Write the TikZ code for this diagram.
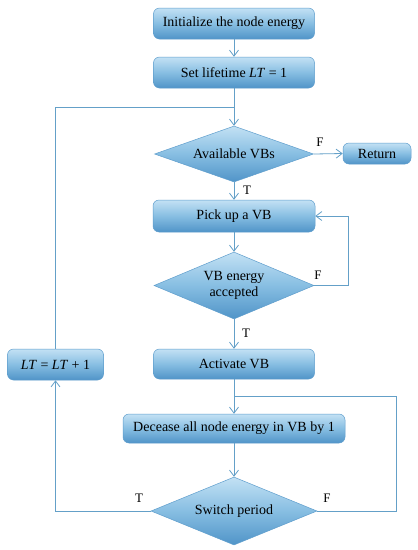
\documentclass[tikz,border=0pt]{standalone}
\usepackage{fontspec}
\setmainfont{Liberation Serif}
\usetikzlibrary{shapes.geometric,arrows.meta}
\definecolor{linec}{RGB}{100,160,200}
\definecolor{boxtop}{RGB}{195,225,244}
\definecolor{boxmid}{RGB}{135,190,226}
\definecolor{boxbot}{RGB}{80,148,200}
\definecolor{boxedge}{RGB}{95,158,205}
\begin{document}
\begin{tikzpicture}[x=1pt,y=-1pt,
  font=\fontsize{14}{16}\selectfont,
  procbox/.style={rectangle,rounded corners=6pt,draw=boxedge,line width=0.5pt,
    top color=boxtop,bottom color=boxbot,middle color=boxmid,
    inner sep=0pt,align=center},
  decbox/.style={diamond,draw=boxedge,line width=0.5pt,
    top color=boxtop,bottom color=boxbot,middle color=boxmid,
    inner sep=0pt,align=center},
  conn/.style={draw=linec,line width=0.8pt},
  arr/.style={conn,-{Straight Barb[length=6pt,width=9pt]}},
  lab/.style={font=\fontsize{13}{15}\selectfont,inner sep=0pt}]
\useasboundingbox (0,0) rectangle (418,550);
\fill[white] (0,0) rectangle (418,550);

\node[procbox,minimum width=161pt,minimum height=31pt] (init) at (234,23.5) {Initialize the node energy};
\node[procbox,minimum width=161pt,minimum height=31pt] (set) at (234,72.5) {Set lifetime \textit{LT} = 1};
\node[decbox,shape aspect=2.84,minimum width=159pt,minimum height=56pt] (avail) at (234,154) {Available VBs};
\node[procbox,minimum width=68pt,minimum height=21pt] (ret) at (377,153.5) {Return};
\node[procbox,minimum width=162pt,minimum height=32pt] (pick) at (234,216) {Pick up a VB};
\node[decbox,shape aspect=2.39,minimum width=160pt,minimum height=67pt] (acc) at (234,285.5) {VB energy\\accepted};
\node[procbox,minimum width=161pt,minimum height=30pt] (act) at (234,364) {Activate VB};
\node[procbox,minimum width=96pt,minimum height=31pt] (lt) at (55.5,364.5) {\textit{LT} = \textit{LT} + 1};
\node[procbox,minimum width=222pt,minimum height=29pt] (dec) at (234,428.5) {Decease all node energy in VB by 1};
\node[decbox,shape aspect=2.44,minimum width=166pt,minimum height=68pt] (sw) at (234,511) {Switch period};

\coordinate (j1) at (234,107);
\coordinate (j2) at (234,396);
\coordinate (rl) at (348,285.5);
\coordinate (rr) at (396,511);
\coordinate (ll) at (55.5,511);
\coordinate (lu) at (55.5,107);

\draw[arr] (init) -- (set);
\draw[conn] (set) -- (j1);
\draw[arr] (j1) -- (avail.north);
\draw[arr] (avail.east) -- (ret.west);
\draw[arr] (avail.south) -- (pick.north);
\draw[arr] (pick) -- (acc.north);
\draw[arr] (acc.east) -- (rl) |- (pick.east);
\draw[arr] (acc.south) -- (act.north);
\draw[conn] (act) -- (j2);
\draw[arr] (j2) -- (dec.north);
\draw[arr] (dec) -- (sw.north);
\draw[conn] (sw.east) -- (rr) |- (j2);
\draw[arr] (sw.west) -- (ll) -- (lt.south);
\draw[conn] (lt.north) -- (lu) -- (j1);

\node[lab] (f1) at (320,142) {F};
\node[lab] (t1) at (247,190) {T};
\node[lab] (f2) at (318,275) {F};
\node[lab] (t2) at (246,333) {T};
\node[lab] (t3) at (139,498) {T};
\node[lab] (f3) at (327,498) {F};
\end{tikzpicture}
\end{document}
